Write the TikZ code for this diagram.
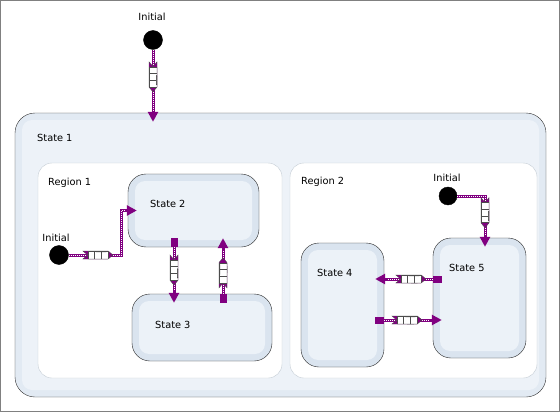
\documentclass[tikz,border=0pt]{standalone}
\usepackage{fontspec}
\setmainfont{DejaVu Sans}
\usetikzlibrary{arrows.meta, positioning, calc, shapes.symbols}
\definecolor{tpurple}{RGB}{128, 0, 128}
\definecolor{stateblue}{RGB}{218, 228, 239}
\definecolor{stateinner}{RGB}{236, 242, 248}
\definecolor{outerblue}{RGB}{226, 234, 243}
\definecolor{outerinner}{RGB}{237, 242, 248}
\definecolor{regionline}{RGB}{196, 204, 212}
\tikzset{
    inset/.style={path picture={\fill[#1, rounded corners=10pt] ([shift={(7pt,-7pt)}]path picture bounding box.north west) rectangle ([shift={(-7pt,7pt)}]path picture bounding box.south east);}}
}

\begin{document}
\begin{tikzpicture}[x=1pt, y=-1pt,
        lbl/.style={font=\fontsize{9.8}{11}\selectfont, inner sep=0},
        bigstate/.style={draw=black!80, rounded corners=20pt, fill=outerblue, inset=outerinner},
        region/.style={draw=regionline, rounded corners=14pt, fill=white},
        state/.style={draw=black!85, rounded corners=18pt, fill=stateblue, inset=stateinner},
        init/.style={circle, fill=black, draw=black, minimum size=19pt, inner sep=0},
        queue/.style={signal, signal to=east, signal from=west, signal pointer angle=80,
            fill=tpurple, draw=black!70, line width=0.4pt, minimum width=30pt, minimum height=8pt, inner sep=0,
            path picture={
                \draw[fill=white, line width=0.6pt] ([shift={(-10pt,-4pt)}]path picture bounding box.center) rectangle ([shift={(10pt,4pt)}]path picture bounding box.center);
                \draw[line width=0.6pt] ([shift={(-3.3pt,-4pt)}]path picture bounding box.center) -- ([shift={(-3.3pt,4pt)}]path picture bounding box.center)
                    ([shift={(3.3pt,-4pt)}]path picture bounding box.center) -- ([shift={(3.3pt,4pt)}]path picture bounding box.center);}},
        trans/.style={draw=tpurple, line width=3pt, {Square[length=9pt, width=7pt]}-{Triangle[length=10pt, width=10pt]},
            shorten <=-9pt, shorten >=-9pt,
            postaction={draw=white, line width=1pt, dash pattern=on 1pt off 1pt, shorten <=0pt, shorten >=3pt, arrows=-}},
        inittrans/.style={draw=tpurple, line width=3pt, -{Triangle[length=10pt, width=10pt]}, shorten >=-9pt,
            postaction={draw=white, line width=1pt, dash pattern=on 1pt off 1pt, shorten >=3pt, arrows=-}}
    ]
    \useasboundingbox (0,0) rectangle (560,412);
    \draw[gray] (0.5,0.5) rectangle (559.5,411.5);

    % composite state and its regions
    \node[bigstate, minimum width=531pt, minimum height=284pt] (state1) at (280.5,255) {};
    \node[region, minimum width=244pt, minimum height=215pt] (region1) at (160,270.5) {};
    \node[region, minimum width=247pt, minimum height=215pt] (region2) at (413.5,270.5) {};

    % simple states
    \node[state, minimum width=131pt, minimum height=73pt] (state2) at (193.5,210.5) {};
    \node[state, minimum width=140pt, minimum height=67pt] (state3) at (202,327.5) {};
    \node[state, minimum width=83pt, minimum height=124pt] (state4) at (342.5,305) {};
    \node[state, minimum width=93pt, minimum height=120pt] (state5) at (479.5,298) {};

    % initial pseudo states
    \node[init] (init0) at (153,40) {};
    \node[init] (init1) at (59,255) {};
    \node[init, minimum size=18pt] (init2) at (448,196) {};

    % labels
    \node[lbl] at (152,17) {Initial};
    \node[lbl] at (56,238) {Initial};
    \node[lbl] at (447,178) {Initial};
    \node[lbl, anchor=west] at (37,138) {State 1};
    \node[lbl, anchor=west] at (48,183) {Region 1};
    \node[lbl, anchor=west] at (301,182) {Region 2};
    \node[lbl, anchor=west] at (150,204) {State 2};
    \node[lbl, anchor=west] at (155,325) {State 3};
    \node[lbl, anchor=west] at (317,273) {State 4};
    \node[lbl, anchor=west] at (449,268) {State 5};

    % transitions
    \draw[inittrans] (init0) -- node[queue, sloped, pos=0.43] (q0) {} (init0 |- state1.north);
    \draw[inittrans] (init1) -- node[queue, sloped, pos=0.55] (q1) {} ([xshift=-6pt]state2.west |- init1) |- (state2.west);
    \draw[inittrans] (init2) -| node[queue, sloped, pos=0.7] (q2) {} ([xshift=5.5pt]state5.north);
    \draw[trans] ([xshift=-19.5pt]state2.south) -- node[queue, sloped, pos=0.49] (q23) {} ([xshift=-19.5pt]state2.south |- state3.north);
    \draw[trans] ([xshift=21pt]state3.north) -- node[queue, sloped, pos=0.45] (q32) {} ([xshift=21pt]state3.north |- state2.south);
    \draw[trans] ([yshift=19pt]state5.west) -- node[queue, sloped, pos=0.45] (q54) {} ([yshift=19pt]state5.west -| state4.east);
    \draw[trans] ([yshift=-15pt]state4.east) -- node[queue, sloped, pos=0.47] (q45) {} ([yshift=-15pt]state4.east -| state5.west);
\end{tikzpicture}
\end{document}
